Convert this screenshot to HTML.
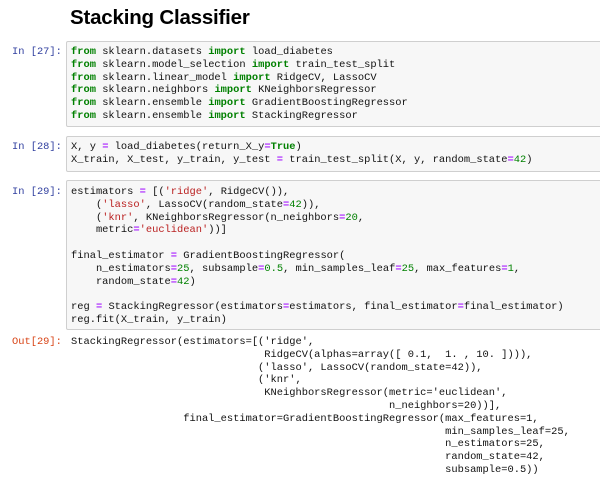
<!DOCTYPE html>
<html><head><meta charset="utf-8"><style>
body{margin:0;width:600px;height:480px;background:#fff;position:relative;overflow:hidden;font-family:"Liberation Mono",monospace;}
.t{position:absolute;left:70px;top:6px;font:bold 20.5px "Liberation Sans",sans-serif;color:#000;margin:0;letter-spacing:-0.2px}
.box{position:absolute;left:66px;right:-5px;background:#f7f7f7;border:1px solid #cfcfcf;border-radius:2px}
pre{position:absolute;margin:0;font-family:"Liberation Mono",monospace;font-size:10.4px;line-height:12.8px;color:#111;white-space:pre}
.p{position:absolute;left:12px;font-family:"Liberation Mono",monospace;font-size:10.4px;color:#303f9f}
.o{color:#d84315}
.k{color:#008000;font-weight:bold}
.s{color:#ba2121}
.n{color:#008000}
.op{color:#aa22ff;font-weight:bold}
</style></head><body>
<div class="t">Stacking Classifier</div>

<div class="box" style="top:41px;height:84px"></div>
<div class="p" style="top:46px">In [27]:</div>
<pre style="left:71px;top:46px"><span class="k">from</span> sklearn.datasets <span class="k">import</span> load_diabetes
<span class="k">from</span> sklearn.model_selection <span class="k">import</span> train_test_split
<span class="k">from</span> sklearn.linear_model <span class="k">import</span> RidgeCV, LassoCV
<span class="k">from</span> sklearn.neighbors <span class="k">import</span> KNeighborsRegressor
<span class="k">from</span> sklearn.ensemble <span class="k">import</span> GradientBoostingRegressor
<span class="k">from</span> sklearn.ensemble <span class="k">import</span> StackingRegressor</pre>

<div class="box" style="top:136px;height:34px"></div>
<div class="p" style="top:141px">In [28]:</div>
<pre style="left:71px;top:141px">X, y <span class="op">=</span> load_diabetes(return_X_y<span class="op">=</span><span class="k">True</span>)
X_train, X_test, y_train, y_test <span class="op">=</span> train_test_split(X, y, random_state<span class="op">=</span><span class="n">42</span>)</pre>

<div class="box" style="top:180px;height:148px"></div>
<div class="p" style="top:186px">In [29]:</div>
<pre style="left:71px;top:186px">estimators <span class="op">=</span> [(<span class="s">'ridge'</span>, RidgeCV()),
    (<span class="s">'lasso'</span>, LassoCV(random_state<span class="op">=</span><span class="n">42</span>)),
    (<span class="s">'knr'</span>, KNeighborsRegressor(n_neighbors<span class="op">=</span><span class="n">20</span>,
    metric<span class="op">=</span><span class="s">'euclidean'</span>))]

final_estimator <span class="op">=</span> GradientBoostingRegressor(
    n_estimators<span class="op">=</span><span class="n">25</span>, subsample<span class="op">=</span><span class="n">0.5</span>, min_samples_leaf<span class="op">=</span><span class="n">25</span>, max_features<span class="op">=</span><span class="n">1</span>,
    random_state<span class="op">=</span><span class="n">42</span>)

reg <span class="op">=</span> StackingRegressor(estimators<span class="op">=</span>estimators, final_estimator<span class="op">=</span>final_estimator)
reg.fit(X_train, y_train)</pre>

<div class="p o" style="top:336px">Out[29]:</div>
<pre style="left:71px;top:336px">StackingRegressor(estimators=[('ridge',
                               RidgeCV(alphas=array([ 0.1,  1. , 10. ]))),
                              ('lasso', LassoCV(random_state=42)),
                              ('knr',
                               KNeighborsRegressor(metric='euclidean',
                                                   n_neighbors=20))],
                  final_estimator=GradientBoostingRegressor(max_features=1,
                                                            min_samples_leaf=25,
                                                            n_estimators=25,
                                                            random_state=42,
                                                            subsample=0.5))</pre>
</body></html>
